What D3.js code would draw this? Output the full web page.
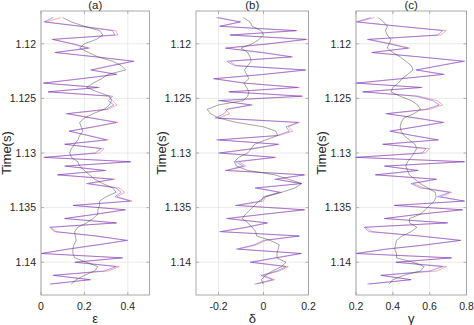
<!DOCTYPE html>
<html><head><meta charset="utf-8">
<script src="https://cdn.jsdelivr.net/npm/d3@7/dist/d3.min.js"></script>
<style>
html,body{margin:0;padding:0;background:#fff;}
svg{display:block;}
text{font-family:"Liberation Sans",Arial,Helvetica,sans-serif;fill:#262626;}
</style></head>
<body><svg id="c" width="474" height="325"></svg>
<script>
// ---- data ----
const times = [1.1176,1.1180,1.1184,1.1188,1.1192,1.1196,1.1200,1.1204,1.1208,1.1212,
1.1216,1.1220,1.1224,1.1228,1.1232,1.1236,1.1240,1.1244,1.1248,1.1252,
1.1256,1.1260,1.1264,1.1268,1.1272,1.1276,1.1280,1.1284,1.1288,1.1292,
1.1296,1.1300,1.1304,1.1308,1.1312,1.1316,1.1320,1.1324,1.1328,1.1332,
1.1336,1.1340,1.1344,1.1348,1.1352,1.1356,1.1360,1.1364,1.1368,1.1372,
1.1376,1.1380,1.1384,1.1388,1.1392,1.1396,1.1400,1.1404,1.1408,1.1412,
1.1416,1.1420];

const epsBlue = [0.055,0.014,0.18,0.33,0.34,0.055,0.14,0.216,0.063,0.25,
0.428,0.32,0.228,0.35,0.18,0.01,0.26,0.032,0.33,0.31,
0.335,0.30,0.116,0.23,0.346,0.24,0.13,0.216,0.30,0.109,
0.277,0.25,0.017,0.415,0.109,0.30,0.078,0.33,0.21,0.345,
0.37,0.34,0.41,0.147,0.39,0.25,0.109,0.346,0.04,0.063,
0.25,0.40,0.26,0.12,0.0,0.377,0.155,0.346,0.29,0.055,
0.224,0.04];
const epsRed = [0.093,0.02,0.19,0.345,0.355,0.05,0.15,0.225,0.07,0.26,
0.425,0.33,0.235,0.345,0.19,0.015,0.27,0.035,0.31,0.33,
0.35,0.31,0.125,0.24,0.355,0.25,0.13,0.22,0.31,0.11,
0.29,0.27,0.012,0.41,0.115,0.29,0.075,0.34,0.22,0.36,
0.385,0.35,0.42,0.15,0.385,0.26,0.11,0.35,0.045,0.07,
0.26,0.39,0.27,0.13,0.005,0.37,0.16,0.36,0.31,0.06,
0.23,0.045];
const epsBlack = [0.1,0.14,0.2,0.27,0.285,0.255,0.2,0.178,0.22,0.262,
0.33,0.37,0.39,0.31,0.28,0.24,0.21,0.26,0.316,0.325,
0.315,0.29,0.24,0.2,0.178,0.185,0.193,0.178,0.17,0.155,
0.14,0.132,0.14,0.17,0.178,0.2,0.224,0.247,0.285,0.331,
0.346,0.30,0.27,0.27,0.262,0.262,0.24,0.21,0.17,0.155,
0.158,0.162,0.152,0.147,0.147,0.155,0.21,0.262,0.247,0.2,
0.162,0.14];

const delBlue = [-0.21,-0.105,-0.196,0.143,-0.15,0.188,0.02,-0.17,-0.01,0.123,
-0.163,-0.13,0.184,0.0,-0.223,-0.09,0.15,-0.155,0.169,-0.2,
-0.05,-0.16,-0.175,-0.215,0.153,0.1,0.115,0.06,-0.208,0.063,
-0.05,-0.2,0.048,-0.125,-0.09,-0.17,0.18,0.05,0.166,-0.038,
0.07,0.0,-0.01,-0.125,0.18,0.0,-0.165,0.015,-0.08,-0.195,
0.158,0.0,-0.04,-0.12,0.166,0.05,-0.06,0.1,0.06,-0.01,
0.04,-0.04];
const delRed = [-0.2,-0.1,-0.19,0.15,-0.145,0.195,0.03,-0.165,0.0,0.13,
-0.15,-0.12,0.19,0.01,-0.215,-0.08,0.16,-0.15,0.175,-0.19,
-0.06,-0.17,-0.15,-0.2,0.16,0.11,0.13,0.07,-0.195,0.07,
-0.04,-0.19,0.055,-0.11,-0.08,-0.16,0.185,0.06,0.17,-0.03,
0.08,0.01,0.0,-0.115,0.185,0.01,-0.155,0.02,-0.07,-0.185,
0.16,0.01,-0.03,-0.11,0.17,0.06,-0.05,0.11,0.07,0.0,
0.05,-0.03];
const delBlack = [-0.09,-0.06,-0.05,-0.01,0.0,-0.02,-0.05,-0.1,-0.07,-0.06,
-0.055,-0.07,-0.085,-0.075,-0.065,-0.087,-0.075,-0.065,-0.07,-0.09,
-0.2,-0.25,-0.235,-0.2,-0.12,0.0,0.055,0.063,0.01,-0.04,
-0.055,-0.07,-0.11,-0.13,-0.12,-0.07,0.05,0.11,0.17,0.14,
0.08,0.01,-0.02,-0.04,-0.06,-0.08,-0.095,-0.07,-0.05,-0.035,
-0.03,0.03,0.07,0.065,0.06,0.06,0.1,0.08,0.04,0.01,
-0.01,0.0];

const gamBlue = [0.28,0.2,0.434,0.67,0.643,0.262,0.38,0.48,0.285,0.54,
0.79,0.65,0.525,0.68,0.44,0.198,0.552,0.235,0.525,0.616,
0.652,0.58,0.362,0.525,0.67,0.525,0.383,0.507,0.643,0.344,
0.58,0.56,0.198,0.79,0.353,0.534,0.304,0.634,0.498,0.55,
0.707,0.643,0.79,0.407,0.78,0.543,0.353,0.7,0.244,0.27,
0.543,0.77,0.58,0.362,0.198,0.72,0.416,0.67,0.6,0.334,
0.498,0.262];
const gamRed = [0.3,0.21,0.44,0.69,0.66,0.27,0.39,0.49,0.29,0.55,
0.78,0.66,0.53,0.67,0.45,0.205,0.56,0.24,0.54,0.64,
0.67,0.6,0.37,0.53,0.68,0.53,0.39,0.51,0.65,0.35,
0.6,0.575,0.2,0.785,0.36,0.54,0.31,0.64,0.51,0.57,
0.72,0.66,0.785,0.41,0.775,0.55,0.36,0.69,0.25,0.29,
0.55,0.765,0.59,0.37,0.205,0.715,0.42,0.69,0.64,0.34,
0.5,0.27];
const gamBlack = [0.32,0.35,0.37,0.36,0.37,0.39,0.38,0.37,0.4,0.44,
0.47,0.5,0.51,0.48,0.45,0.43,0.4,0.39,0.44,0.5,
0.535,0.55,0.515,0.46,0.445,0.44,0.445,0.46,0.49,0.52,
0.53,0.515,0.5,0.48,0.47,0.48,0.49,0.52,0.55,0.59,
0.63,0.635,0.625,0.6,0.575,0.55,0.49,0.49,0.53,0.5,
0.45,0.42,0.415,0.41,0.42,0.42,0.51,0.57,0.55,0.46,
0.4,0.38];

const panelTitles = ["(a)","(b)","(c)"];
const xLabels = ["ε","δ","γ"];
const yLabel = "Time(s)";
const timeDomain = [1.117,1.143];
const yTicks = [1.12,1.125,1.13,1.135,1.14];
const yTickLabels = ["1.12","1.125","1.13","1.135","1.14"];
const xDomainA = [0,0.5], xTicksA = [0,0.2,0.4], xTickLabelsA = ["0","0.2","0.4"];
const xDomainB = [-0.3,0.2], xTicksB = [-0.2,0,0.2], xTickLabelsB = ["-0.2","0","0.2"];
const xDomainC = [0.2,0.8], xTicksC = [0.2,0.4,0.6,0.8], xTickLabelsC = ["0.2","0.4","0.6","0.8"];

// ---- layout ----
const panels = [
  {title:panelTitles[0], label:xLabels[0], blue:epsBlue, red:epsRed, black:epsBlack, dom:xDomainA, ticks:xTicksA, tl:xTickLabelsA, x0:41, x1:149.5},
  {title:panelTitles[1], label:xLabels[1], blue:delBlue, red:delRed, black:delBlack, dom:xDomainB, ticks:xTicksB, tl:xTickLabelsB, x0:196, x1:308.5},
  {title:panelTitles[2], label:xLabels[2], blue:gamBlue, red:gamRed, black:gamBlack, dom:xDomainC, ticks:xTicksC, tl:xTickLabelsC, x0:356, x1:466.5}
];
const plotTop = 11, plotBottom = 295;
const svg = d3.select("#c");
const y = d3.scaleLinear().domain(timeDomain).range([plotTop,plotBottom]);
const frameCol = "#a0a0a0", gridCol = "#e6e6e6";

panels.forEach(p=>{
  const x = d3.scaleLinear().domain(p.dom).range([p.x0,p.x1]);
  const g = svg.append("g");
  g.selectAll(".gx").data(p.ticks).enter().append("line")
    .attr("x1",d=>x(d)).attr("x2",d=>x(d)).attr("y1",plotTop).attr("y2",plotBottom)
    .attr("stroke",gridCol).attr("stroke-width",0.8);
  g.selectAll(".gy").data(yTicks).enter().append("line")
    .attr("x1",p.x0).attr("x2",p.x1).attr("y1",d=>y(d)).attr("y2",d=>y(d))
    .attr("stroke",gridCol).attr("stroke-width",0.8);
  const mk = arr => times.map((t,i)=>({t:t, v:arr[i]}));
  const line = d3.line().x(d=>x(d.v)).y(d=>y(d.t));
  g.append("path").attr("d",line(mk(p.red))).attr("fill","none")
    .attr("stroke","#ff4040").attr("stroke-opacity",0.6).attr("stroke-width",0.75);
  g.append("path").attr("d",line(mk(p.blue))).attr("fill","none")
    .attr("stroke","#3535ff").attr("stroke-opacity",0.6).attr("stroke-width",0.75);
  g.append("path").attr("d",line(mk(p.black))).attr("fill","none")
    .attr("stroke","#3a3a3a").attr("stroke-opacity",0.85).attr("stroke-width",0.55);
  g.append("rect").attr("x",p.x0).attr("y",plotTop).attr("width",p.x1-p.x0).attr("height",plotBottom-plotTop)
    .attr("fill","none").attr("stroke",frameCol).attr("stroke-width",0.9);
  const tl = 3;
  yTicks.forEach(v=>{
    g.append("line").attr("x1",p.x0).attr("x2",p.x0+tl).attr("y1",y(v)).attr("y2",y(v)).attr("stroke",frameCol).attr("stroke-width",0.8);
    g.append("line").attr("x1",p.x1).attr("x2",p.x1-tl).attr("y1",y(v)).attr("y2",y(v)).attr("stroke",frameCol).attr("stroke-width",0.8);
  });
  p.ticks.forEach(v=>{
    g.append("line").attr("x1",x(v)).attr("x2",x(v)).attr("y1",plotBottom).attr("y2",plotBottom-tl).attr("stroke",frameCol).attr("stroke-width",0.8);
    g.append("line").attr("x1",x(v)).attr("x2",x(v)).attr("y1",plotTop).attr("y2",plotTop+tl).attr("stroke",frameCol).attr("stroke-width",0.8);
  });
  g.selectAll(".yl").data(yTicks).enter().append("text")
    .attr("x",p.x0-5).attr("y",d=>y(d)+3.8).attr("text-anchor","end")
    .attr("font-size",10.5).text((d,i)=>yTickLabels[i]);
  g.selectAll(".xl").data(p.ticks).enter().append("text")
    .attr("x",d=>x(d)).attr("y",plotBottom+14.5).attr("text-anchor","middle")
    .attr("font-size",10.5).text((d,i)=>p.tl[i]);
  g.append("text").attr("x",(p.x0+p.x1)/2).attr("y",8.5).attr("text-anchor","middle")
    .attr("font-size",11.5).text(p.title);
  g.append("text").attr("x",(p.x0+p.x1)/2).attr("y",plotBottom+27.5).attr("text-anchor","middle")
    .attr("font-size",13).text(p.label);
  g.append("text").attr("transform",`translate(${p.x0-30.5},${(plotTop+plotBottom)/2}) rotate(-90)`)
    .attr("text-anchor","middle").attr("font-size",13).text(yLabel);
});
</script></body></html>
